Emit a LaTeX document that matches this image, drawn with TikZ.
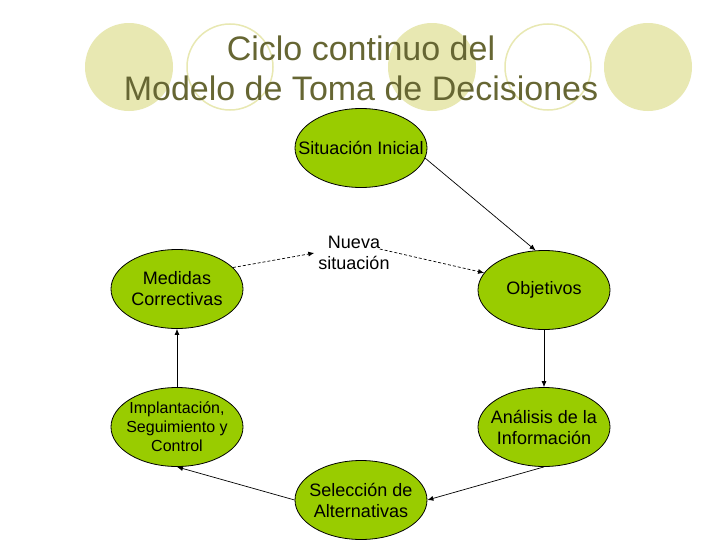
\documentclass[tikz,border=0pt]{standalone}
\usepackage{fontspec}
\setmainfont{Liberation Sans}
\usetikzlibrary{arrows.meta,shapes.geometric}

\definecolor{leaf}{HTML}{99CC00}
\definecolor{pale}{HTML}{E8E8B2}
\definecolor{olive}{HTML}{666633}

\begin{document}
\begin{tikzpicture}[
  x=1pt, y=-1pt,
  font=\fontsize{18}{21}\selectfont,
  bub/.style={ellipse, draw=black, line width=0.8pt, fill=leaf, minimum width=132pt,
              minimum height=79pt, inner xsep=-24pt, inner ysep=0pt, align=center},
  ring/.style={draw=pale, line width=1.5pt},
  arr/.style={-{Latex[length=6pt,width=5pt]}, line width=0.7pt},
  dsh/.style={arr, dash pattern=on 3pt off 2pt}
]
\useasboundingbox[fill=white] (0,0) rectangle (728,546);

% decorative circles behind the title
\fill[pale] (129,67) circle[radius=44pt];
\draw[ring] (230,67) circle[radius=43pt];
\fill[pale] (432,67) circle[radius=44pt];
\draw[ring] (548,67) circle[radius=43pt];
\fill[pale] (648,67) circle[radius=44pt];

\node[text=olive, font=\fontsize{34}{40}\selectfont, align=center] (ttl) at (361,68)
  {Ciclo continuo del\\ Modelo de Toma de Decisiones};

\node[bub] (sit) at (361,148) {Situación Inicial};
\node[bub] (obj) at (544,290) {Objetivos};
\node[bub] (ana) at (544,427) {Análisis de la\\ Información};
\node[bub] (sel) at (361,500) {Selección de\\ Alternativas};
\node[bub, font=\fontsize{16}{19}\selectfont] (imp) at (177,427) {Implantación,\\ Seguimiento y\\ Control};
\node[bub] (med) at (177,289) {Medidas\\ Correctivas};
\node[inner sep=4pt, align=center] (nue) at (354,253) {Nueva\\ situación};

\draw[arr] (sit.-9) -- (obj.102);
\draw[arr] (obj) -- (ana);
\draw[arr] (ana.south) -- (sel.east);
\draw[arr] (sel.west) -- (imp.south);
\draw[arr] (imp) -- (med);
\draw[dsh] (med.21) -- (nue.west);
\draw[dsh] ([xshift=-14pt,yshift=4pt]nue.east) -- (obj.164);
\end{tikzpicture}
\end{document}
